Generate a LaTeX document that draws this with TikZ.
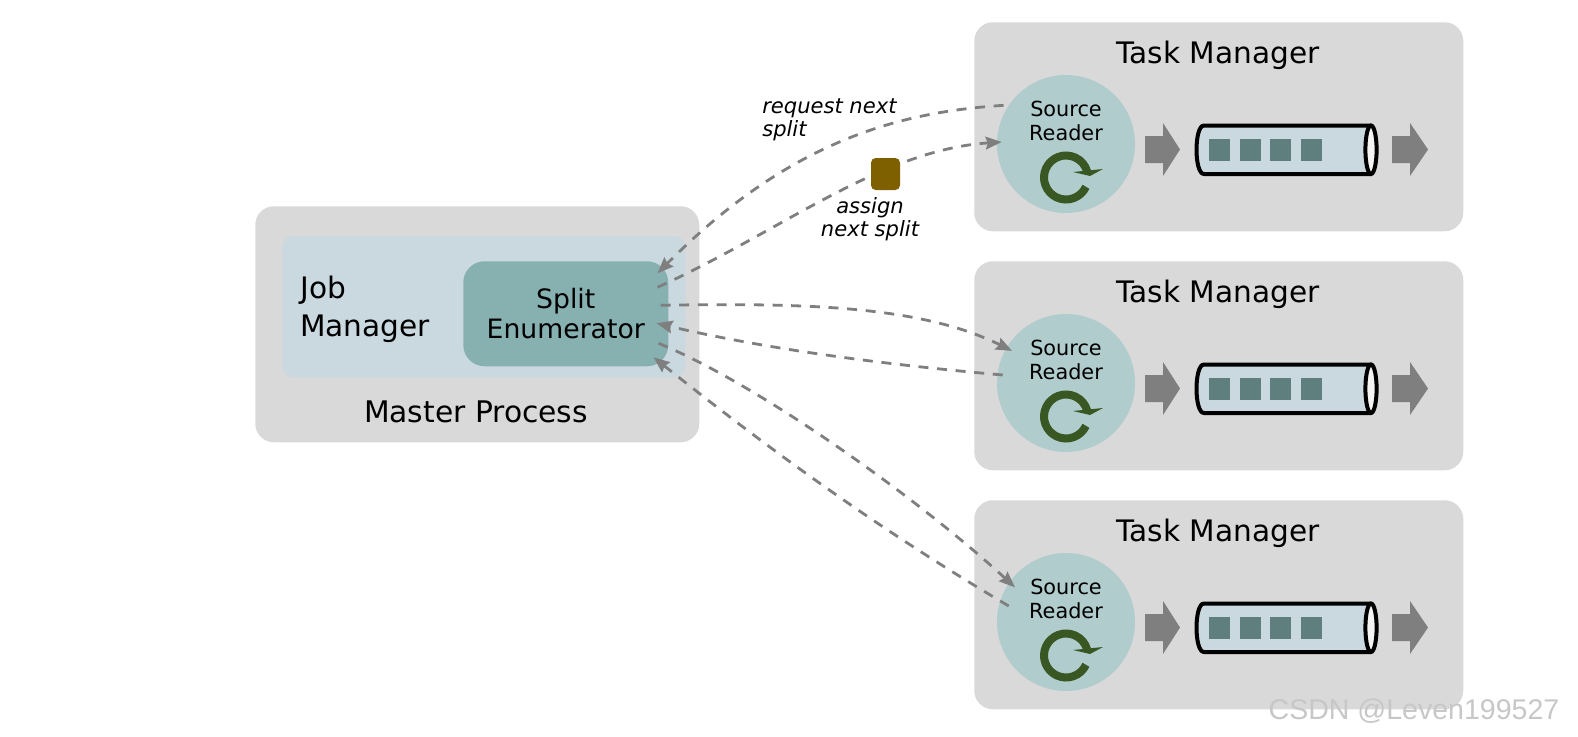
\documentclass[tikz,border=0pt]{standalone}
\usetikzlibrary{arrows.meta}
\usepackage{fontspec}
\setmainfont{DejaVu Sans}
\newfontfamily\markfont{Liberation Sans}
\definecolor{boxgrey}{HTML}{D9D9D9}
\definecolor{jobblue}{HTML}{CAD9E0}
\definecolor{splitteal}{HTML}{87B0B1}
\definecolor{readerteal}{HTML}{B0CCCD}
\definecolor{recordteal}{HTML}{5F7F7F}
\definecolor{loopgreen}{HTML}{385723}
\definecolor{splitbrown}{HTML}{7F6000}
\definecolor{flowgrey}{HTML}{7F7F7F}

\begin{document}
\begin{tikzpicture}
[x=0.75pt,y=-0.75pt,
greybox/.style={fill=boxgrey,anchor=north west,inner sep=0pt,rounded corners=14pt},
bigtext/.style={font=\fontsize{22.2}{28.5}\selectfont,align=left,inner sep=0pt},
smalltext/.style={font=\fontsize{15.6}{18}\selectfont,align=center,inner sep=0pt},
splittext/.style={font=\fontsize{15.8}{17.5}\selectfont\itshape,inner sep=0pt},
flowline/.style={-{Stealth[length=12pt,width=9.5pt,inset=1.5pt]},flowgrey,line width=2.1pt,dash pattern=on 7.5pt off 6.5pt}]

\useasboundingbox (0,0) rectangle (1578,736);

% Master process
\node[greybox,minimum width=333pt,minimum height=177pt](master) at (255,206){};
\node[greybox,fill=jobblue,rounded corners=8pt,minimum width=302.25pt,minimum height=105.75pt](job) at (282,236){};
\node[greybox,fill=splitteal,rounded corners=16pt,minimum width=153.75pt,minimum height=78.75pt,
  font=\fontsize{20}{22.5}\selectfont,align=center](enum) at (463,261){Split\\Enumerator};
\node[bigtext,anchor=west](jobtext) at (300,309){Job\\Manager};
\node[bigtext,font=\fontsize{22.3}{28}\selectfont](mastertext) at (476,412){Master Process};

% Task managers
\foreach \i/\off in {1/0,2/239,3/478}{
\begin{scope}[shift={(0,\off)}]
\node[greybox,minimum width=366.75pt,minimum height=156.75pt](tm\i) at (974,22){};
\node[bigtext](title\i) at (1218,55){Task Manager};
\node[circle,fill=readerteal,minimum size=103.5pt,inner sep=0pt](reader\i) at (1066,144){};
\node[smalltext](readertext\i) at (1066,121){Source\\Reader};
% loop
\draw[loopgreen,line width=6pt] (1066,177.5) ++(-25:16.5pt) arc[start angle=-25,end angle=-345,radius=16.5pt];
\fill[loopgreen] (1073,172) -- (1103,169) -- (1090,176) -- cycle;
% arrows
\fill[flowgrey] (1145,136) -- (1163,136) -- (1163,123) -- (1180,149.5) -- (1163,176) -- (1163,163) -- (1145,163) -- cycle;
\fill[flowgrey] (1392,136) -- (1410,136) -- (1410,123) -- (1428,149.5) -- (1410,176) -- (1410,163) -- (1392,163) -- cycle;
% queue
\draw[black,fill=jobblue,line width=3pt] (1371,125.5) -- (1204,125.5) .. controls (1194,125.5) and (1194,174) .. (1204,174) -- (1371,174);
\draw[black,fill=boxgrey!30!white,line width=3pt] (1371,149.75) ellipse (4.2pt and 18.2pt);
\foreach \x in {1209,1240,1270,1301}{
\fill[recordteal] (\x,139) rectangle ++(21,22);
}
\end{scope}
}

% requests and assignments
\draw[flowline] ([shift={(-3,-3)}]reader1.149) .. controls (900,112) and (790,140) .. ([shift={(-11,-40.5)}]enum.east);
\draw[flowline] ([shift={(-11,-26.5)}]enum.east) .. controls (780,232) and (880,150) .. ([shift={(5,-2)}]reader1.west);
\draw[flowline] ([shift={(-8,-8.5)}]enum.east) .. controls (800,303) and (920,305) .. ([shift={(6,2.5)}]reader2.150);
\draw[flowline] ([shift={(6,-8)}]reader2.west) .. controls (890,365) and (770,350) .. ([shift={(-12,9.5)}]enum.east);
\draw[flowline] ([shift={(-10,29.5)}]enum.east) .. controls (760,385) and (920,500) .. ([shift={(9,0)}]reader3.150);
\draw[flowline] ([shift={(12,-16)}]reader3.west) .. controls (880,530) and (770,450) .. ([shift={(-15,43.5)}]enum.east);

% split in flight
\node[fill=splitbrown,rounded corners=3.5pt,minimum width=21.75pt,minimum height=24pt,inner sep=0pt](split) at (885.5,174){};
\node[splittext,align=left,anchor=west](requesttext) at (762,120){request next\\split};
\node[splittext,align=center](assigntext) at (870,219){assign\\next split};

% watermark
\node[font=\markfont\fontsize{21.4}{24}\selectfont,text=boxgrey!80!gray,inner sep=0pt](mark) at (1414,711){CSDN @Leven199527};

\end{tikzpicture}
\end{document}
